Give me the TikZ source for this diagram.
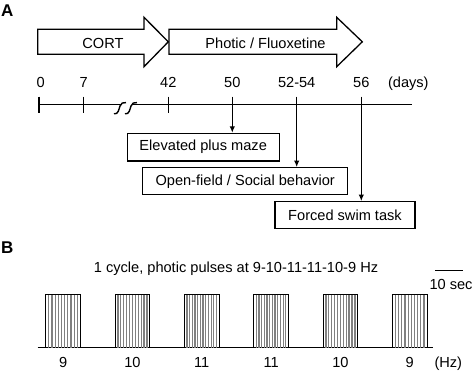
\documentclass[tikz,border=0pt]{standalone}
\usepackage{fontspec}
\setmainfont{Liberation Sans}
\usetikzlibrary{arrows.meta}
\begin{document}
\begin{tikzpicture}[x=1pt,y=-1pt,
  lbl/.style={font=\fontsize{14.6}{16}\selectfont, inner sep=0pt},
  panel/.style={font=\fontsize{17}{19}\selectfont\bfseries, inner sep=0pt, anchor=base west},
  tickl/.style={lbl, anchor=base},
  box/.style={draw, line width=1.1pt, inner sep=0pt, font=\fontsize{14.6}{16}\selectfont},
  blockarrow/.style={draw, line width=1.3pt, fill=white, line join=miter},
  axis/.style={line width=1.4pt},
  down/.style={line width=1.3pt, -{Latex[length=6.5pt,width=5.5pt]}},
  pulse/.style={black!50, line width=1.25pt},
  pulsebox/.style={line width=1pt}]
\useasboundingbox (0,0) rectangle (474,371);

% Panel labels
\node[panel] (pA) at (1,16.5) {A};
\node[panel] (pB) at (1,253.3) {B};

% Block arrows
\draw[blockarrow] (37.7,29.3) -- (144,29.3) -- (144,17.3) -- (168.3,41.8) -- (144,66.7) -- (144,54.3) -- (37.7,54.3) -- cycle;
\node[lbl, anchor=base] (cort) at (103,49) {CORT};
\draw[blockarrow] (169,29.3) -- (336.7,29.3) -- (336.7,17.3) -- (362.3,41.8) -- (336.7,66.7) -- (336.7,54.3) -- (169,54.3) -- cycle;
\node[lbl, anchor=base] (phot) at (265.5,49) {Photic / Fluoxetine};

% Day labels
\node[tickl] (d0) at (40.7,87.3) {0};
\node[tickl] (d7) at (83.7,87.3) {7};
\node[tickl] (d42) at (168.3,87.3) {42};
\node[tickl] (d50) at (232.3,87.3) {50};
\node[tickl] (d52) at (296.7,87.3) {52-54};
\node[tickl] (d56) at (361.3,87.3) {56};
\node[tickl] (days) at (408.3,87.3) {(days)};

% Timeline
\coordinate (l0) at (39,104.3);
\coordinate (lbreakA) at (120.5,104.3);
\coordinate (lbreakB) at (132,104.3);
\coordinate (lend) at (411.7,104.3);
\draw[axis] (l0) -- (lbreakA);
\draw[axis] (lbreakB) -- (lend);
\foreach \cx in {120,131}{
  \draw[line width=1.4pt] (\cx-6,113.8) .. controls (\cx-1.5,114.8) and (\cx-1,108.5) .. (\cx,106)
     .. controls (\cx+1,103) and (\cx+3,102.2) .. (\cx+6,102.6);
}
\foreach \x in {39,83.7,168.3}{
  \draw[axis] (\x,96.7) -- (\x,112.7);
}
\coordinate (t50) at (232.3,96.7);
\coordinate (t52) at (296.7,96.7);
\coordinate (t56) at (361.3,96.7);

% Test boxes
\node[box, minimum width=152.3pt, minimum height=27.7pt] (epm) at (203.2,147.2) {Elevated plus maze};
\node[box, minimum width=205pt, minimum height=27.3pt] (ofs) at (245.2,181.3) {Open-field / Social behavior};
\node[box, minimum width=140pt, minimum height=27pt] (fst) at (345,215.2) {Forced swim task};

\draw[down] (t50) -- (t50 |- epm.north);
\draw[down] (t52) -- (t52 |- ofs.north);
\draw[down] (t56) -- (t56 |- fst.north);

% Panel B
\node[lbl, anchor=base] (title) at (236,272.7) {1 cycle, photic pulses at 9-10-11-11-10-9 Hz};
\coordinate (sbA) at (435,270.5);
\coordinate (sbB) at (463.3,270.5);
\draw[line width=1.1pt] (sbA) -- (sbB);
\node[lbl, anchor=base west] (sec) at (429.3,290) {10 sec};

% Pulse train
\coordinate (p0) at (37.7,347.7);
\coordinate (p1) at (433.3,347.7);
\draw[pulsebox] (p0) -- (p1);
\foreach \i/\hz/\n in {0/9/11,1/10/12,2/11/13,3/11/13,4/10/12,5/9/11}{
  \pgfmathsetmacro{\L}{45.7+69.33*\i}
  \pgfmathsetmacro{\R}{\L+34.8}
  \pgfmathsetmacro{\step}{34.8/\n}
  \foreach \k in {1,...,\n}{
    \ifnum\k<\n
      \draw[pulse] (\L+\k*\step,295.5) -- (\L+\k*\step,347.7);
    \fi
  }
  \draw[pulsebox] (\L,347.7) -- (\L,295) -- (\R,295) -- (\R,347.7);
  \node[tickl] (hz\i) at (\L+17.4,367.7) {\hz};
}
\node[tickl] (hzunit) at (448.3,367.7) {(Hz)};
\end{tikzpicture}
\end{document}
